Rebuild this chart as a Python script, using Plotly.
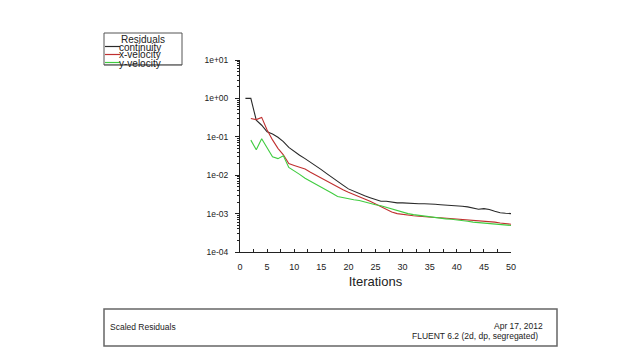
import plotly.graph_objects as go

# ---------------- data ----------------
series_names = ["continuity", "x-velocity", "y-velocity"]

iter_continuity = list(range(1, 51))
continuity = [1.0, 1.0, 0.27, 0.2, 0.135, 0.118, 0.097, 0.075, 0.053, 0.041,
              0.033, 0.027, 0.022, 0.018, 0.014, 0.011, 0.0086, 0.0068, 0.0055, 0.0044,
              0.0038, 0.0033, 0.0029, 0.0026, 0.0023, 0.0021, 0.0021, 0.0020, 0.0019, 0.0019,
              0.00185, 0.00185, 0.0018, 0.0018, 0.0018, 0.00175, 0.0017, 0.00168, 0.00165, 0.0016,
              0.00155, 0.0015, 0.0014, 0.0013, 0.00135, 0.00128, 0.00115, 0.00105, 0.00102, 0.001]

iter_vel = list(range(2, 51))
x_velocity = [0.30, 0.28, 0.32, 0.15, 0.083, 0.05, 0.034, 0.020, 0.018,
              0.016, 0.0145, 0.012, 0.010, 0.0085, 0.0071, 0.0058, 0.0048, 0.0042, 0.0036,
              0.0031, 0.0027, 0.0024, 0.0021, 0.0018, 0.0015, 0.0013, 0.0011, 0.001, 0.00095,
              0.0009, 0.00088, 0.00085, 0.00082, 0.0008, 0.00079, 0.00078, 0.00076, 0.00075, 0.00074,
              0.00072, 0.0007, 0.00068, 0.00066, 0.00064, 0.00062, 0.0006, 0.00057, 0.00055, 0.00053]
y_velocity = [0.082, 0.046, 0.089, 0.05, 0.03, 0.027, 0.032, 0.016, 0.0132,
              0.0105, 0.0083, 0.007, 0.0058, 0.005, 0.0042, 0.0034, 0.0028, 0.0026, 0.0024,
              0.0023, 0.0022, 0.002, 0.0018, 0.0017, 0.0016, 0.00145, 0.0013, 0.0012, 0.0011,
              0.001, 0.00094, 0.0009, 0.00085, 0.0008, 0.00078, 0.00076, 0.00073, 0.00071, 0.00069,
              0.00066, 0.00063, 0.0006, 0.00058, 0.00056, 0.00054, 0.00053, 0.00051, 0.0005, 0.00049]

x_tick_vals = [0, 5, 10, 15, 20, 25, 30, 35, 40, 45, 50]
y_tick_vals = [1e-4, 1e-3, 1e-2, 1e-1, 1e0, 1e1]
y_tick_text = ["1e-04", "1e-03", "1e-02", "1e-01", "1e+00", "1e+01"]

legend_title = "Residuals"
footer_left = "Scaled Residuals"
footer_date = "Apr 17, 2012"
footer_solver = "FLUENT 6.2 (2d, dp, segregated)"
x_title = "Iterations"

colors = ["#2a2a2a", "#c03030", "#40cc40"]

# ---------------- figure ----------------
OFF = 8                       # page body margin in the browser
W, H = 638 - OFF, 359 - OFF
L, R, T, B = 240, 511, 60, 252   # plot area in screen pixels
FONT = "Liberation Sans, Arial, sans-serif"

def px(x):
    return (x - L) / (R - L)

def py(y):
    return (B - y) / (B - T)

fig = go.Figure()
xs = [iter_continuity, iter_vel, iter_vel]
ys = [continuity, x_velocity, y_velocity]
for name, xv, yv, c in zip(series_names, xs, ys, colors):
    fig.add_trace(go.Scatter(x=xv, y=yv, mode="lines", name=name,
                             line=dict(color=c, width=1.1), showlegend=False))

minor_y = [k * 10.0 ** e for e in range(-4, 1) for k in range(2, 10)]

fig.update_layout(
    width=W, height=H,
    margin=dict(l=L - OFF, r=638 - R, t=T - OFF, b=359 - B, pad=0),
    paper_bgcolor="white", plot_bgcolor="white",
    font=dict(family=FONT, size=9, color="#222"),
    xaxis=dict(range=[0, 50], tickvals=x_tick_vals, ticks="inside", ticklen=3,
               tickcolor="#222", showline=True, linecolor="#222", linewidth=1,
               showgrid=False, zeroline=False,
               minor=dict(tickvals=[2.5 + 5 * i for i in range(10)], ticks="inside",
                          ticklen=3, tickcolor="#222"),
               tickfont=dict(size=9), ticklabelstandoff=6,
               title=dict(text=x_title, font=dict(size=13), standoff=6)),
    yaxis=dict(type="log", range=[-4, 1], tickvals=y_tick_vals, ticktext=y_tick_text,
               ticks="outside", ticklen=4, tickcolor="#222",
               showline=True, linecolor="#222", linewidth=1,
               showgrid=False, zeroline=False,
               minor=dict(tickvals=minor_y, ticks="outside", ticklen=2, tickcolor="#222"),
               tickfont=dict(size=8.5), ticklabelstandoff=5),
)

# legend box (drawn)
fig.add_shape(type="rect", xref="paper", yref="paper",
              x0=px(104), x1=px(182), y0=py(65), y1=py(33),
              line=dict(color="#555", width=1), fillcolor="white", layer="above")
fig.add_annotation(xref="paper", yref="paper", x=px(143), y=py(39), text=legend_title,
                   showarrow=False, font=dict(size=10, color="#222"), xanchor="center", yanchor="middle")
leg_y = [47, 55, 63]
for name, c, yy in zip(series_names, colors, leg_y):
    fig.add_shape(type="line", xref="paper", yref="paper",
                  x0=px(105), x1=px(120), y0=py(yy - 0.5), y1=py(yy - 0.5),
                  line=dict(color=c, width=1.2), layer="above")
    fig.add_annotation(xref="paper", yref="paper", x=px(117), y=py(yy), text=name,
                       showarrow=False, font=dict(size=10, color="#222"),
                       xanchor="left", yanchor="middle")
# the box border clips the last entry
fig.add_shape(type="rect", xref="paper", yref="paper",
              x0=px(103), x1=px(184), y0=py(74), y1=py(65.5),
              line=dict(width=0), fillcolor="white", layer="above")
fig.add_shape(type="line", xref="paper", yref="paper",
              x0=px(104), x1=px(182), y0=py(65), y1=py(65),
              line=dict(color="#555", width=1), layer="above")

# footer box
fig.add_shape(type="rect", xref="paper", yref="paper",
              x0=px(104), x1=px(557), y0=py(346), y1=py(309),
              line=dict(color="#666", width=1.5), fillcolor="rgba(0,0,0,0)")
fig.add_annotation(xref="paper", yref="paper", x=px(108), y=py(327), text=footer_left,
                   showarrow=False, font=dict(size=8.5, color="#222"), xanchor="left", yanchor="middle")
fig.add_annotation(xref="paper", yref="paper", x=px(545), y=py(326), text=footer_date,
                   showarrow=False, font=dict(size=8.5, color="#222"), xanchor="right", yanchor="middle")
fig.add_annotation(xref="paper", yref="paper", x=px(540), y=py(335.5), text=footer_solver,
                   showarrow=False, font=dict(size=8.5, color="#222"), xanchor="right", yanchor="middle")

fig.write_html("out.html")
